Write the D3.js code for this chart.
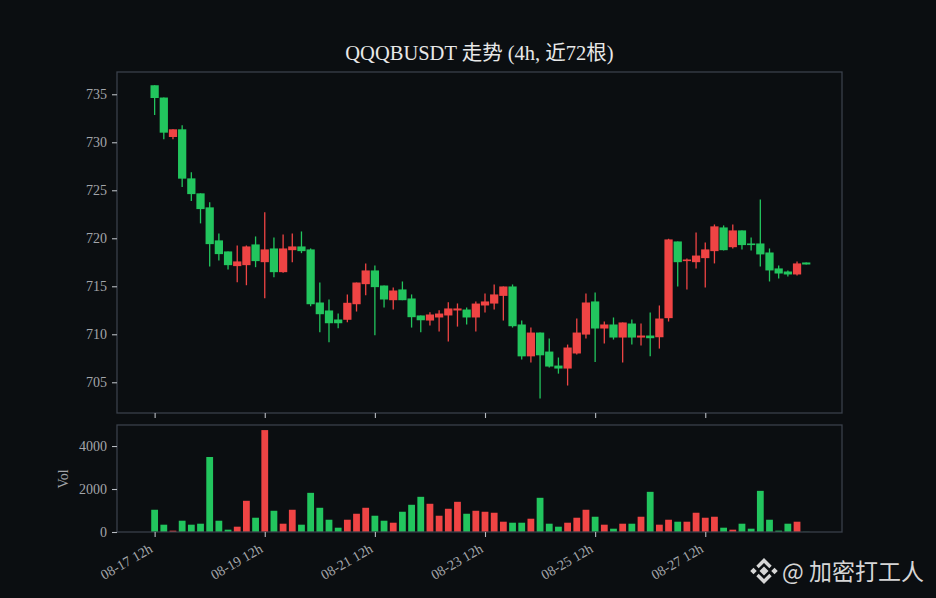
<!DOCTYPE html>
<html>
<head>
<meta charset="utf-8">
<script src="https://cdn.jsdelivr.net/npm/d3@7"></script>
<style>
  html, body { margin: 0; padding: 0; background: #0b0e11; }
  svg text { font-family: "Liberation Serif", "Noto Sans CJK SC", serif; }
</style>
</head>
<body>
<div id="chart"></div>
<script>
// 4h candles, first one opens 08-17 12:00
const startTime = "2025-08-17T12:00";
const candleHours = 4;

const openPrices = [735.94, 734.66, 730.55, 731.35, 726.24, 724.68, 723.22, 719.78, 718.63, 717.10,
  717.20, 719.36, 717.51, 718.94, 716.47, 718.76, 719.15, 718.84, 713.31, 712.48,
  711.54, 711.51, 713.13, 715.22, 716.65, 715.08, 713.55, 714.67, 713.73, 711.96,
  711.43, 711.75, 711.96, 712.48, 712.58, 711.75, 713.00, 713.20, 714.00, 714.98,
  711.02, 707.70, 710.18, 708.20, 706.74, 706.43, 708.00, 709.97, 713.42, 710.60,
  711.02, 709.66, 711.12, 709.66, 709.87, 709.69, 711.68, 719.67, 717.62, 717.51,
  717.93, 718.66, 721.13, 719.07, 720.82, 719.46, 719.46, 718.52, 716.86, 716.54,
  716.23, 717.48];
const highPrices = [735.94, 734.66, 731.35, 731.77, 726.87, 724.68, 723.74, 720.50, 718.63, 719.25,
  719.25, 720.19, 722.70, 720.09, 720.40, 720.50, 720.71, 718.94, 715.39, 713.62,
  712.16, 714.15, 715.39, 717.38, 717.17, 715.08, 714.87, 715.50, 714.15, 711.96,
  712.30, 712.51, 713.34, 713.21, 712.79, 713.42, 714.25, 715.19, 714.98, 715.19,
  711.43, 710.70, 710.18, 709.56, 707.58, 708.93, 711.64, 714.25, 714.35, 711.33,
  711.75, 711.23, 711.54, 711.12, 712.27, 713.00, 719.95, 719.67, 717.90, 720.61,
  719.57, 721.44, 721.34, 721.44, 720.82, 720.09, 724.05, 718.94, 717.17, 716.65,
  717.59, 717.48];
const lowPrices = [732.84, 730.31, 730.31, 725.33, 723.87, 721.55, 717.06, 717.69, 716.75, 715.43,
  715.11, 716.99, 713.76, 715.95, 716.40, 717.51, 718.45, 712.92, 710.21, 709.17,
  710.63, 711.26, 712.37, 714.07, 709.90, 712.79, 712.58, 713.55, 710.70, 710.21,
  710.91, 710.29, 709.24, 710.80, 711.02, 710.29, 712.27, 712.58, 711.43, 710.70,
  707.37, 707.05, 703.30, 706.53, 705.90, 704.66, 707.90, 709.56, 707.10, 709.03,
  709.45, 707.05, 708.93, 708.83, 707.70, 708.51, 711.33, 714.98, 714.67, 716.86,
  714.88, 717.38, 718.73, 718.94, 718.84, 718.73, 717.06, 715.50, 715.81, 716.02,
  716.13, 717.27];
const closePrices = [734.61, 731.00, 731.35, 726.21, 724.60, 723.04, 719.39, 718.35, 717.20, 717.59,
  719.15, 717.62, 718.84, 716.47, 718.94, 719.15, 718.66, 713.13, 712.09, 711.15,
  711.15, 713.28, 715.39, 716.65, 714.91, 713.62, 714.56, 713.55, 711.78, 711.46,
  712.06, 712.16, 712.69, 712.69, 711.75, 713.20, 713.42, 714.15, 714.98, 710.84,
  707.70, 710.18, 707.81, 706.64, 706.43, 708.62, 710.18, 713.31, 710.60, 711.02,
  709.66, 711.23, 709.66, 709.87, 709.59, 711.64, 719.88, 717.51, 717.79, 718.20,
  718.84, 721.24, 718.76, 720.82, 719.29, 719.29, 718.32, 716.65, 716.33, 716.23,
  717.38, 717.27];
const volumes = [1035, 340, 62, 525, 340, 386, 3490, 525, 108, 247,
  1452, 664, 4741, 988, 386, 1035, 340, 1822, 1127, 571,
  200, 571, 849, 1127, 757, 525, 432, 942, 1266, 1637,
  1313, 757, 1081, 1405, 849, 988, 942, 896, 479, 432,
  432, 618, 1591, 386, 247, 432, 664, 1035, 710, 340,
  154, 386, 386, 710, 1869, 340, 571, 479, 479, 896,
  664, 710, 200, 108, 386, 154, 1915, 571, 62, 386,
  479, 8];

const priceTicks = [705, 710, 715, 720, 725, 730, 735];
const volumeTicks = [0, 2000, 4000];
const dateTicks = ["2025-08-17T12:00", "2025-08-19T12:00", "2025-08-21T12:00",
  "2025-08-23T12:00", "2025-08-25T12:00", "2025-08-27T12:00"];
const priceLimits = [701.8, 737.32];

const W = 936, H = 598;
const plot = { left: 117, right: 842, top: 72, bottom: 413 };
const vol = { top: 425, bottom: 532 };
const upColor = "#ef4444", downColor = "#22c55e";
const frameColor = "#3a404b", textColor = "#a3a6ab", tickColor = "#b8bcc2";

const parseT = d3.timeParse("%Y-%m-%dT%H:%M");
const t0 = parseT(startTime);
const hourMs = 3600 * 1000;

const candles = openPrices.map((o, i) => ({
  t: new Date(+t0 + i * candleHours * hourMs),
  o: o, h: highPrices[i], l: lowPrices[i], c: closePrices[i], v: volumes[i]
}));
const tLast = candles[candles.length - 1].t;

const svg = d3.select("#chart").append("svg")
  .attr("width", W).attr("height", H)
  .style("display", "block")
  .style("background", "#0b0e11");

// escalas
const x = d3.scaleTime()
  .domain([new Date(+t0 - 4.1 * candleHours * hourMs), new Date(+tLast + 3.9 * candleHours * hourMs)])
  .range([plot.left, plot.right]);
const step = x(candles[1].t) - x(candles[0].t);

const y = d3.scaleLinear().domain(priceLimits).range([plot.bottom, plot.top]);
const yVol = d3.scaleLinear()
  .domain([0, d3.max(volumes) * 1.05])
  .range([vol.bottom, vol.top]);

const isUp = d => d.c >= d.o;

// titulo
svg.append("text")
  .attr("x", (plot.left + plot.right) / 2)
  .attr("y", 60)
  .attr("text-anchor", "middle")
  .style("font-size", "20.5px")
  .style("fill", "#e8e8e8")
  .text("QQQBUSDT 走势 (4h, 近72根)");

// velas
const candleG = svg.append("g");
candleG.selectAll("line")
  .data(candles)
  .enter()
  .append("line")
  .attr("x1", d => x(d.t)).attr("x2", d => x(d.t))
  .attr("y1", d => y(d.h)).attr("y2", d => y(d.l))
  .attr("stroke", d => isUp(d) ? upColor : downColor)
  .attr("stroke-width", 1.3);

candleG.selectAll("rect")
  .data(candles)
  .enter()
  .append("rect")
  .attr("x", d => x(d.t) - step * 0.45)
  .attr("width", step * 0.9)
  .attr("y", d => y(Math.max(d.o, d.c)))
  .attr("height", d => Math.max(1.5, Math.abs(y(d.o) - y(d.c))))
  .attr("fill", d => isUp(d) ? upColor : downColor);

// volumen
svg.append("g")
  .selectAll("rect")
  .data(candles)
  .enter()
  .append("rect")
  .attr("x", d => x(d.t) - step * 0.37)
  .attr("width", step * 0.74)
  .attr("y", d => yVol(d.v))
  .attr("height", d => yVol(0) - yVol(d.v))
  .attr("fill", d => isUp(d) ? upColor : downColor);

// marcos
svg.append("rect")
  .attr("x", plot.left).attr("y", plot.top)
  .attr("width", plot.right - plot.left).attr("height", plot.bottom - plot.top)
  .attr("fill", "none").attr("stroke", frameColor).attr("stroke-width", 1.3);
svg.append("rect")
  .attr("x", plot.left).attr("y", vol.top)
  .attr("width", plot.right - plot.left).attr("height", vol.bottom - vol.top)
  .attr("fill", "none").attr("stroke", frameColor).attr("stroke-width", 1.3);

// ejes
const tickDates = dateTicks.map(parseT);
const fmt = d3.timeFormat("%m-%d %Hh");

function styleAxis(g) {
  g.select(".domain").remove();
  g.selectAll(".tick line").attr("stroke", tickColor).attr("stroke-width", 1.1);
  g.selectAll(".tick text")
    .style("fill", textColor)
    .style("font-size", "14px")
    .style("font-family", "'Liberation Serif', serif");
}

svg.append("g")
  .attr("transform", `translate(${plot.left},0)`)
  .call(d3.axisLeft(y).tickValues(priceTicks).tickSize(5).tickPadding(5))
  .call(styleAxis);

svg.append("g")
  .attr("transform", `translate(${plot.left},0)`)
  .call(d3.axisLeft(yVol).tickValues(volumeTicks).tickFormat(d3.format("d")).tickSize(5).tickPadding(5))
  .call(styleAxis);

svg.append("g")
  .attr("transform", `translate(0,${plot.bottom})`)
  .call(d3.axisBottom(x).tickValues(tickDates).tickFormat("").tickSize(5))
  .call(styleAxis);

svg.append("g")
  .attr("transform", `translate(0,${vol.bottom})`)
  .call(d3.axisBottom(x).tickValues(tickDates).tickFormat(fmt).tickSize(5))
  .call(styleAxis)
  .selectAll(".tick text")
  .attr("y", 0)
  .attr("dy", 0)
  .attr("text-anchor", "end")
  .attr("transform", "translate(-1.5,19.5) rotate(-30)");

svg.append("text")
  .attr("transform", "translate(68,479) rotate(-90)")
  .attr("text-anchor", "middle")
  .style("font-size", "14px")
  .style("fill", textColor)
  .text("Vol");

// marca de agua
const wm = svg.append("g").attr("transform", "translate(764,571)");
const wmColor = "#d6d6d6";
wm.append("rect").attr("x", -3.2).attr("y", -3.2).attr("width", 6.4).attr("height", 6.4)
  .attr("transform", "rotate(45)").attr("fill", wmColor);
[-10.5, 10.5].forEach(dx => {
  wm.append("rect").attr("x", -2.3).attr("y", -2.3).attr("width", 4.6).attr("height", 4.6)
    .attr("transform", `translate(${dx},0) rotate(45)`).attr("fill", wmColor);
});
wm.append("path").attr("d", "M-6.5,-4 L0,-10.5 L6.5,-4")
  .attr("fill", "none").attr("stroke", wmColor).attr("stroke-width", 3.4);
wm.append("path").attr("d", "M-6.5,4 L0,10.5 L6.5,4")
  .attr("fill", "none").attr("stroke", wmColor).attr("stroke-width", 3.4);

svg.append("text")
  .attr("x", 782)
  .attr("y", 580)
  .style("font-family", "'Noto Sans CJK SC', sans-serif")
  .style("font-size", "23px")
  .style("fill", wmColor)
  .text("@ 加密打工人");
</script>
</body>
</html>
